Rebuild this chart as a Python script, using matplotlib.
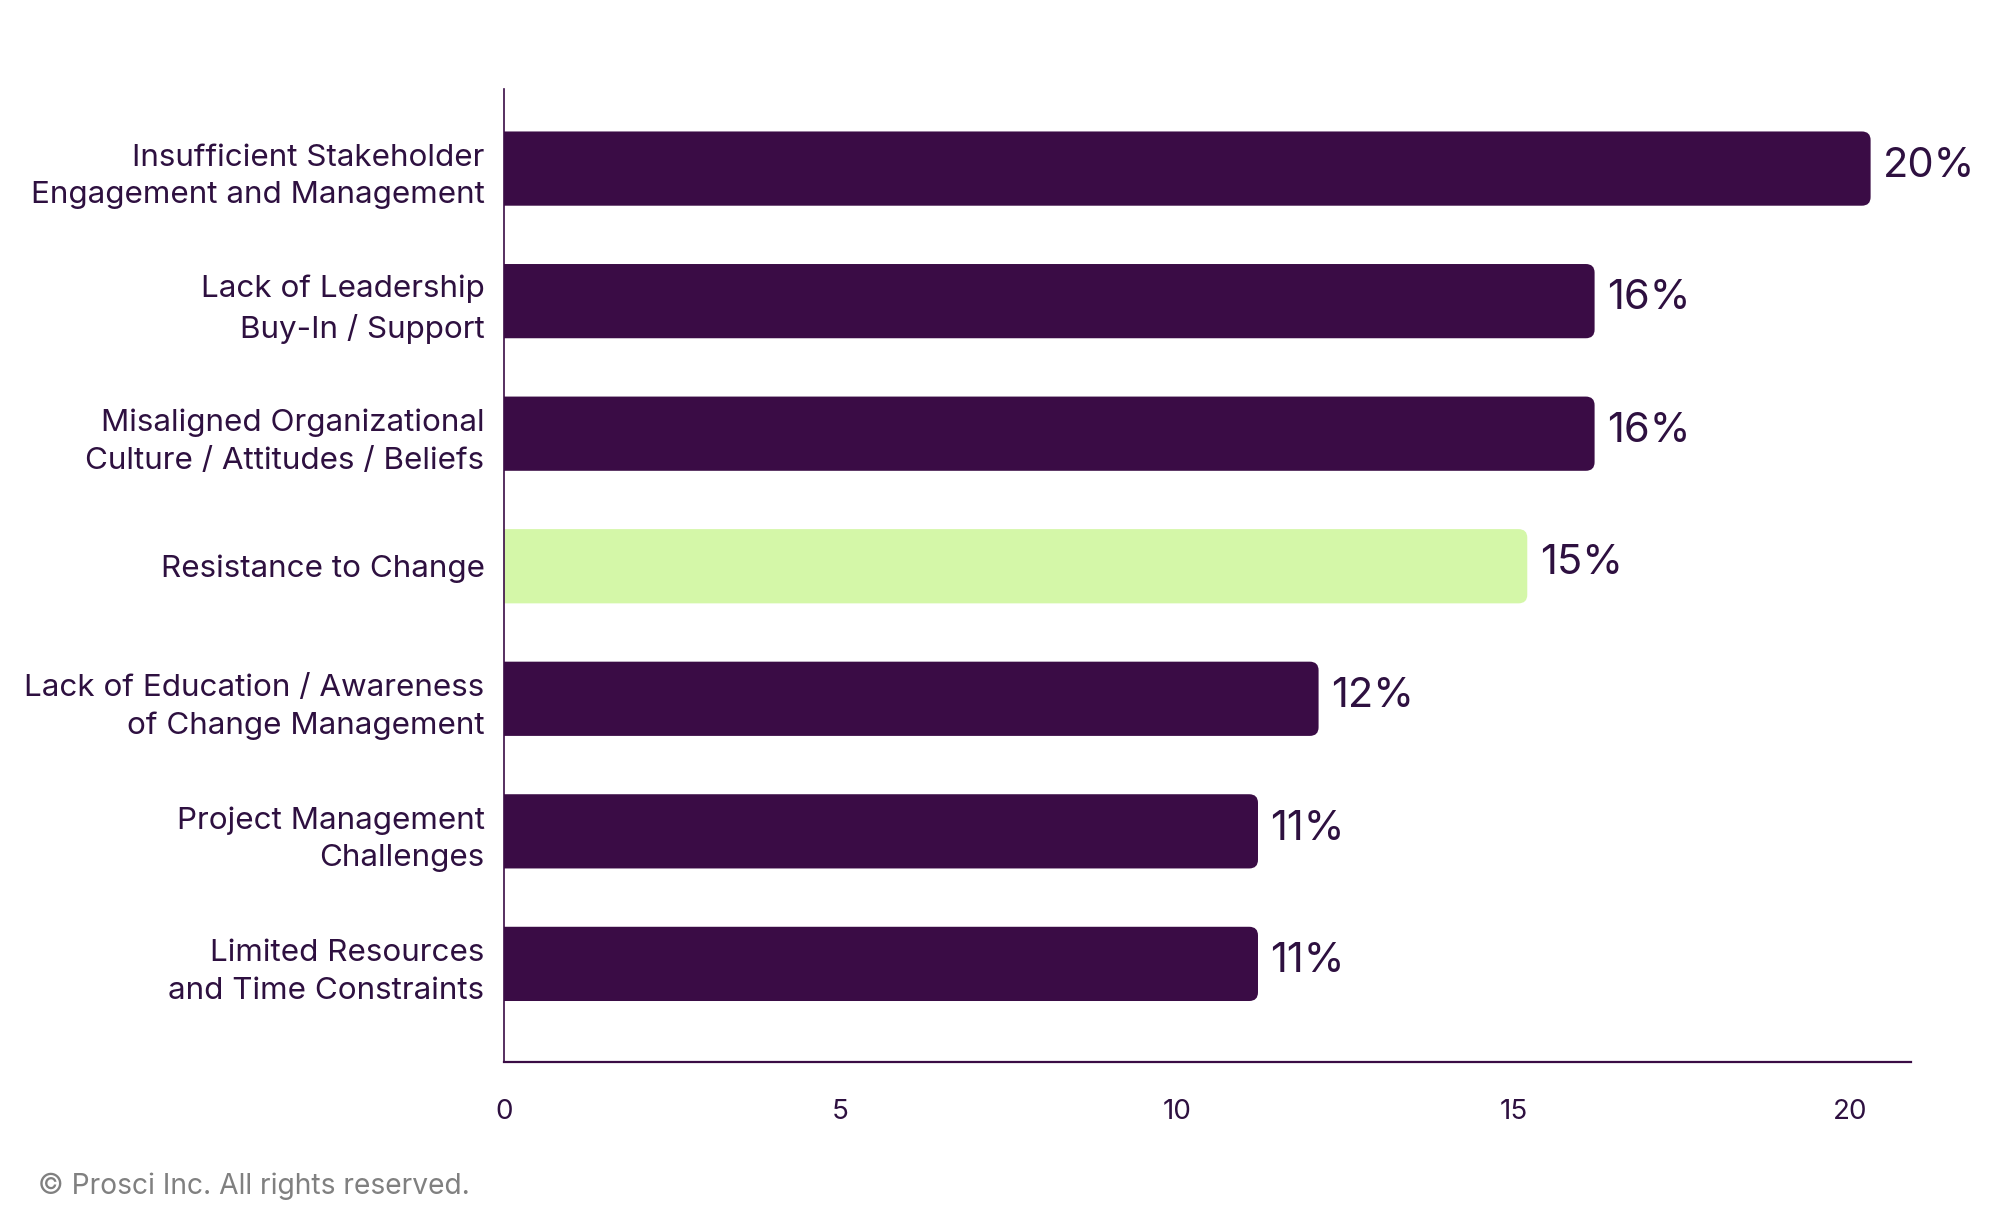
import matplotlib
matplotlib.use("Agg")
import matplotlib.pyplot as plt
from matplotlib.patches import FancyBboxPatch

categories = [
    "Insufficient Stakeholder\nEngagement and Management",
    "Lack of Leadership\nBuy-In / Support",
    "Misaligned Organizational\nCulture / Attitudes / Beliefs",
    "Resistance to Change",
    "Lack of Education / Awareness\nof Change Management",
    "Project Management\nChallenges",
    "Limited Resources\nand Time Constraints",
]
values = [20.3, 16.2, 16.2, 15.2, 12.1, 11.2, 11.2]
value_labels = ["20%", "16%", "16%", "15%", "12%", "11%", "11%"]
highlight = [False, False, False, True, False, False, False]
xticks = [0, 5, 10, 15, 20]

DARK = "#3a0c45"
GREEN = "#d4f7a8"
TEXT = "#2e1040"
FONT = ["Inter", "DejaVu Sans"]

plt.rcParams["font.family"] = FONT

fig = plt.figure(figsize=(20, 12.3), dpi=100)
ax = fig.add_axes([0.252, 0.1366, 0.9555 - 0.252, 0.9276 - 0.1366])

ax.set_xlim(0, 20.9)
ax.set_ylim(6.74, -0.6)

bar_h = 0.56
rad_x = 0.13
aspect = 0.5
for i, (v, hl) in enumerate(zip(values, highlight)):
    color = GREEN if hl else DARK
    p = FancyBboxPatch((-0.5, i - bar_h / 2), v + 0.5, bar_h,
                       boxstyle=f"round,pad=0,rounding_size={rad_x}",
                       mutation_aspect=aspect,
                       facecolor=color, edgecolor="none",
                       transform=ax.transData, clip_on=True)
    ax.add_patch(p)
    ax.annotate(value_labels[i], xy=(v, i), xytext=(9, 2),
                textcoords="offset points", ha="left", va="center",
                fontsize=30, color=TEXT)

ax.set_yticks(range(len(categories)))
ax.set_yticklabels(categories, fontsize=22.6, color=TEXT,
                   multialignment="right", linespacing=1.45)
ax.set_xticks(xticks)
ax.set_xticklabels([str(t) for t in xticks], fontsize=20, color=TEXT)

ax.tick_params(axis="y", length=0, pad=14)
ax.tick_params(axis="x", length=0, pad=27)

for s in ["top", "right"]:
    ax.spines[s].set_visible(False)
ax.spines["left"].set_color(DARK)
ax.spines["left"].set_linewidth(1.2)
ax.spines["bottom"].set_color(DARK)
ax.spines["bottom"].set_linewidth(1.6)

fig.text(38 / 2000, 1 - 1186 / 1230, "\u00a9 Prosci Inc. All rights reserved.",
         fontsize=20.3, color="#808080", ha="left", va="center")

fig.savefig("out.png", dpi=100, facecolor="white")
